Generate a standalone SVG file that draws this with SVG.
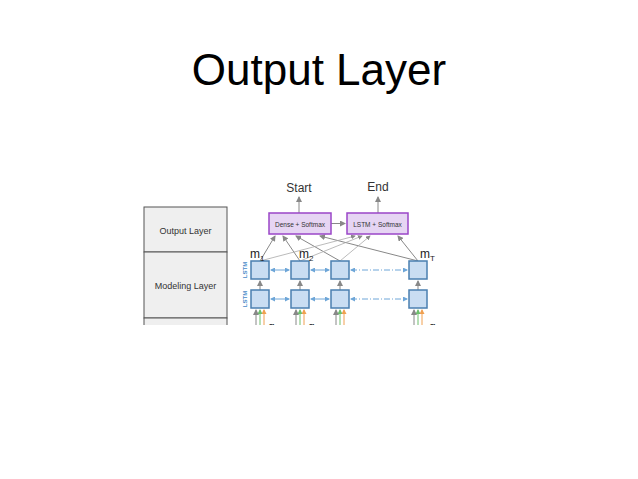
<svg xmlns="http://www.w3.org/2000/svg" width="638" height="479" viewBox="0 0 638 479">
<style>
text{font-family:"Liberation Sans",Arial,sans-serif}
.layer{fill:#efefef;stroke:#555;stroke-width:1}
.pb{fill:#e6d5f3;stroke:#9a46c8;stroke-width:1.5}
.cell{fill:#c9ddf2;stroke:#4a7fb0;stroke-width:1.5}
.g{stroke:#888;stroke-width:1;fill:none}
.lg{stroke:#aaa;stroke-width:0.8;fill:none}
.b{stroke:#6ea6d8;stroke-width:1;fill:none}
</style>
<defs>
<marker id="ag" markerWidth="6" markerHeight="6" refX="5" refY="3" orient="auto"><path d="M0,0L6,3L0,6z" fill="#888"/></marker>
<marker id="ab" markerWidth="5" markerHeight="5" refX="4" refY="2.5" orient="auto-start-reverse"><path d="M0,0L5,2.5L0,5z" fill="#6ea6d8"/></marker>
<marker id="agr" markerWidth="5" markerHeight="5" refX="4" refY="2.5" orient="auto"><path d="M0,0L5,2.5L0,5z" fill="#6cbf6c"/></marker>
<marker id="aor" markerWidth="5" markerHeight="5" refX="4" refY="2.5" orient="auto"><path d="M0,0L5,2.5L0,5z" fill="#f0a050"/></marker>
<clipPath id="c"><rect x="0" y="0" width="638" height="325"/></clipPath>
</defs>
<rect width="638" height="479" fill="#fff"/>
<text x="319" y="85" font-size="44" text-anchor="middle">Output Layer</text>
<g clip-path="url(#c)">
<g id="layers">
<rect class="layer" x="144" y="207" width="83" height="45"/>
<text x="185.5" y="234" font-size="9" text-anchor="middle" fill="#333">Output Layer</text>
<rect class="layer" x="144" y="252" width="83" height="66"/>
<text x="185.5" y="289" font-size="9" text-anchor="middle" fill="#333">Modeling Layer</text>
<rect class="layer" x="144" y="318" width="83" height="30"/>
</g>
<g id="connectors">
<line class="g" x1="299" y1="213" x2="299" y2="197" marker-end="url(#ag)"/>
<line class="g" x1="378" y1="213" x2="378" y2="197" marker-end="url(#ag)"/>
<line class="g" x1="331" y1="223.5" x2="345" y2="223.5" marker-end="url(#ag)"/>
<line class="g" x1="260" y1="261" x2="275" y2="236" marker-end="url(#ag)"/>
<line class="g" x1="300" y1="261" x2="283" y2="236" marker-end="url(#ag)"/>
<line class="g" x1="340" y1="261" x2="296" y2="236" marker-end="url(#ag)"/>
<line class="g" x1="418" y1="261" x2="320" y2="236" marker-end="url(#ag)"/>
<line class="lg" x1="260" y1="261" x2="355" y2="236" marker-end="url(#ag)"/>
<line class="lg" x1="300" y1="261" x2="362" y2="236" marker-end="url(#ag)"/>
<line class="lg" x1="340" y1="261" x2="370" y2="236" marker-end="url(#ag)"/>
<line class="g" x1="418" y1="261" x2="398" y2="236" marker-end="url(#ag)"/>
<line class="g" x1="260" y1="290" x2="260" y2="281" marker-end="url(#ag)"/>
<line class="g" x1="300" y1="290" x2="300" y2="281" marker-end="url(#ag)"/>
<line class="g" x1="340" y1="290" x2="340" y2="281" marker-end="url(#ag)"/>
<line class="g" x1="418" y1="290" x2="418" y2="281" marker-end="url(#ag)"/>
<g class="b">
<line x1="271" y1="270" x2="289" y2="270" marker-start="url(#ab)" marker-end="url(#ab)"/>
<line x1="311" y1="270" x2="329" y2="270" marker-start="url(#ab)" marker-end="url(#ab)"/>
<line x1="351" y1="270" x2="407" y2="270" marker-start="url(#ab)" marker-end="url(#ab)" stroke-dasharray="6 2 1 2"/>
<line x1="271" y1="299" x2="289" y2="299" marker-start="url(#ab)" marker-end="url(#ab)"/>
<line x1="311" y1="299" x2="329" y2="299" marker-start="url(#ab)" marker-end="url(#ab)"/>
<line x1="351" y1="299" x2="407" y2="299" marker-start="url(#ab)" marker-end="url(#ab)" stroke-dasharray="6 2 1 2"/>
</g>
<g>
<line class="g" x1="256" y1="330" x2="256" y2="310" marker-end="url(#ag)"/><line x1="260" y1="330" x2="260" y2="310" stroke="#6cbf6c" marker-end="url(#agr)"/><line x1="264" y1="330" x2="264" y2="310" stroke="#f0a050" marker-end="url(#aor)"/>
<line class="g" x1="296" y1="330" x2="296" y2="310" marker-end="url(#ag)"/><line x1="300" y1="330" x2="300" y2="310" stroke="#6cbf6c" marker-end="url(#agr)"/><line x1="304" y1="330" x2="304" y2="310" stroke="#f0a050" marker-end="url(#aor)"/>
<line class="g" x1="336" y1="330" x2="336" y2="310" marker-end="url(#ag)"/><line x1="340" y1="330" x2="340" y2="310" stroke="#6cbf6c" marker-end="url(#agr)"/><line x1="344" y1="330" x2="344" y2="310" stroke="#f0a050" marker-end="url(#aor)"/>
<line class="g" x1="414" y1="330" x2="414" y2="310" marker-end="url(#ag)"/><line x1="418" y1="330" x2="418" y2="310" stroke="#6cbf6c" marker-end="url(#agr)"/><line x1="422" y1="330" x2="422" y2="310" stroke="#f0a050" marker-end="url(#aor)"/>
</g>
</g>
<g id="start"><text x="299" y="192" font-size="12" text-anchor="middle" fill="#333">Start</text></g>
<g id="end"><text x="378" y="191" font-size="12" text-anchor="middle" fill="#333">End</text></g>
<g id="dense"><rect class="pb" x="269" y="213" width="62" height="21"/><text x="300" y="226.5" font-size="6.5" text-anchor="middle" fill="#333">Dense + Softmax</text></g>
<g id="lstmsoft"><rect class="pb" x="347" y="213" width="61" height="21"/><text x="377.5" y="226.5" font-size="6.5" text-anchor="middle" fill="#333">LSTM + Softmax</text></g>
<g id="cells">
<rect class="cell" x="251" y="261" width="18" height="18"/><rect class="cell" x="291" y="261" width="18" height="18"/><rect class="cell" x="331" y="261" width="18" height="18"/><rect class="cell" x="409" y="261" width="18" height="18"/>
<rect class="cell" x="251" y="290" width="18" height="18"/><rect class="cell" x="291" y="290" width="18" height="18"/><rect class="cell" x="331" y="290" width="18" height="18"/><rect class="cell" x="409" y="290" width="18" height="18"/>
<text transform="translate(247,270) rotate(-90)" font-size="6" font-weight="bold" text-anchor="middle" fill="#4a8ac8">LSTM</text>
<text transform="translate(247,299) rotate(-90)" font-size="6" font-weight="bold" text-anchor="middle" fill="#4a8ac8">LSTM</text>
</g>
<g id="labels" font-size="12" fill="#222">
<text x="250" y="258">m<tspan font-size="8" dy="3">1</tspan></text>
<text x="299" y="258">m<tspan font-size="8" dy="3">2</tspan></text>
<text x="420" y="258">m<tspan font-size="8" dy="3">T</tspan></text>
<text x="268" y="331">g<tspan font-size="8" dy="3">1</tspan></text>
<text x="308" y="331">g<tspan font-size="8" dy="3">2</tspan></text>
<text x="429" y="331">g<tspan font-size="8" dy="3">T</tspan></text>
</g>
</g>
</svg>
